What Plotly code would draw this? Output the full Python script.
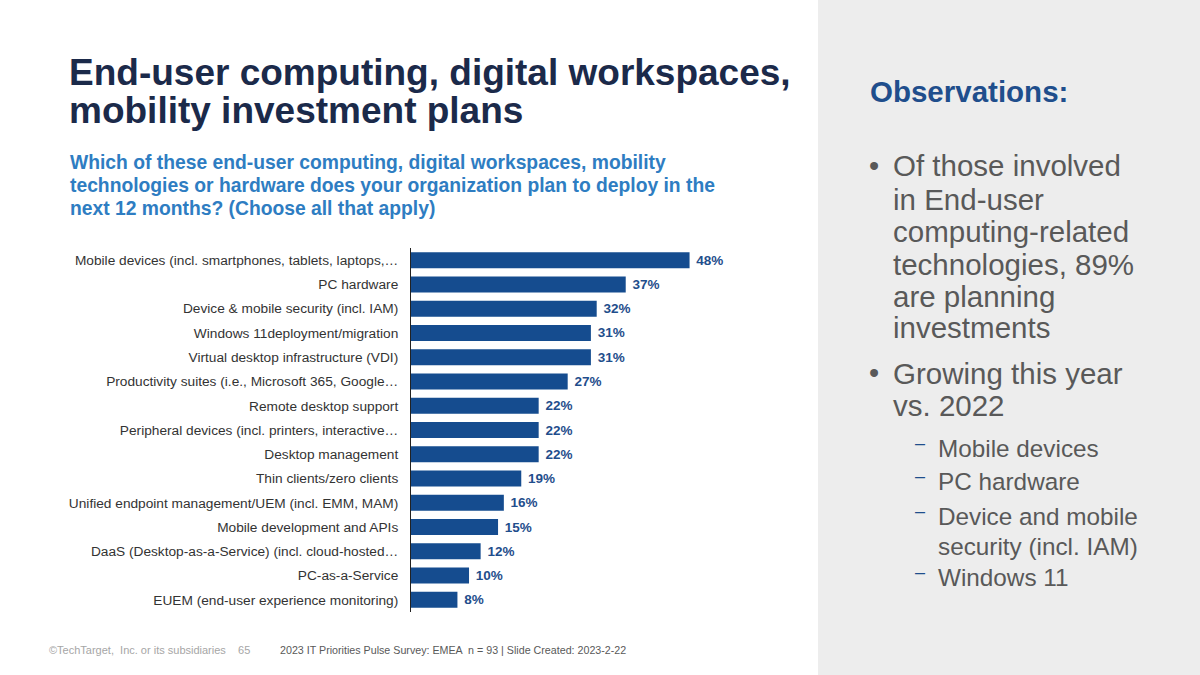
import plotly.graph_objects as go

categories = [
    "Mobile devices (incl. smartphones, tablets, laptops,…",
    "PC hardware",
    "Device & mobile security (incl. IAM)",
    "Windows 11deployment/migration",
    "Virtual desktop infrastructure (VDI)",
    "Productivity suites (i.e., Microsoft 365, Google…",
    "Remote desktop support",
    "Peripheral devices (incl. printers, interactive…",
    "Desktop management",
    "Thin clients/zero clients",
    "Unified endpoint management/UEM (incl. EMM, MAM)",
    "Mobile development and APIs",
    "DaaS (Desktop-as-a-Service) (incl. cloud-hosted…",
    "PC-as-a-Service",
    "EUEM (end-user experience monitoring)",
]
values = [48, 37, 32, 31, 31, 27, 22, 22, 22, 19, 16, 15, 12, 10, 8]

W, H = 1200, 675
x0, x1 = 411, 765
y0, y1 = 248, 612

fig = go.Figure()
fig.add_trace(go.Bar(
    x=values, y=categories, orientation="h",
    marker=dict(color="#154C8F", line=dict(width=0)),
    text=[f"{v}%" for v in values], textposition="outside",
    textfont=dict(family="Liberation Sans, Arial", size=13.5, color="#1F4E8C"),
    texttemplate="<b> %{text}</b>", cliponaxis=False,
    width=0.66, hoverinfo="skip",
))

fig.update_layout(
    width=W, height=H, margin=dict(l=0, r=0, t=0, b=0),
    paper_bgcolor="white", plot_bgcolor="rgba(0,0,0,0)", showlegend=False,
    xaxis=dict(domain=[x0 / W, x1 / W], range=[0, 61], visible=False, fixedrange=True),
    yaxis=dict(domain=[1 - y1 / H, 1 - y0 / H], autorange="reversed", showline=True,
               linecolor="#222222", linewidth=1, ticks="", showgrid=False,
               tickfont=dict(family="Liberation Sans, Arial", size=13.7, color="#333333"),
               ticklabelstandoff=9, fixedrange=True),
    font=dict(family="Liberation Sans, Arial"),
)

# right panel background
fig.add_shape(type="rect", xref="paper", yref="paper", x0=818 / W, x1=1, y0=0, y1=1,
              fillcolor="#EDEDED", line=dict(width=0), layer="below")

def ann(text, x, y, size, color, bold=False, anchor="left", yanchor="middle"):
    fig.add_annotation(text=f"<b>{text}</b>" if bold else text, x=x / W, y=1 - y / H,
                       xref="paper", yref="paper", showarrow=False, xanchor=anchor,
                       yanchor=yanchor, align="left",
                       font=dict(family="Liberation Sans, Arial", size=size, color=color))

# Title
ann("End-user computing, digital workspaces,", 67, 72, 37, "#1B2A4A", bold=True)
ann("mobility investment plans", 67, 111, 37, "#1B2A4A", bold=True)

# Subtitle
for t, yy in [("Which of these end-user computing, digital workspaces, mobility", 162),
              ("technologies or hardware does your organization plan to deploy in the", 185),
              ("next 12 months? (Choose all that apply)", 208)]:
    ann(t, 68, yy, 19.3, "#2E7DC2", bold=True)

# Observations
ann("Observations:", 868, 91, 29.5, "#1F4E8C", bold=True)
gray = "#595959"
ann("•", 867, 166, 29, gray)
for t, yy in [("Of those involved", 166), ("in End-user", 199), ("computing-related", 231),
              ("technologies, 89%", 264), ("are planning", 296), ("investments", 328)]:
    ann(t, 891, yy, 29.5, gray)
ann("•", 867, 373, 29, gray)
for t, yy in [("Growing this year", 373), ("vs. 2022", 405)]:
    ann(t, 891, yy, 29.5, gray)
for t, yy, dash in [("Mobile devices", 448, True), ("PC hardware", 481, True),
                    ("Device and mobile", 516, True), ("security (incl. IAM)", 546, False),
                    ("Windows 11", 577, True)]:
    if dash:
        ann("–", 913, yy - 5, 18, "#1F4E8C")
    ann(t, 936, yy, 24.3, gray)

# Footer
ann("©TechTarget,  Inc. or its subsidiaries    65", 47, 650, 11, "#A6A6A6")
ann("2023 IT Priorities Pulse Survey: EMEA  n = 93 | Slide Created: 2023-2-22", 278, 650, 10.7, "#595959")

fig.write_html("out.html")
